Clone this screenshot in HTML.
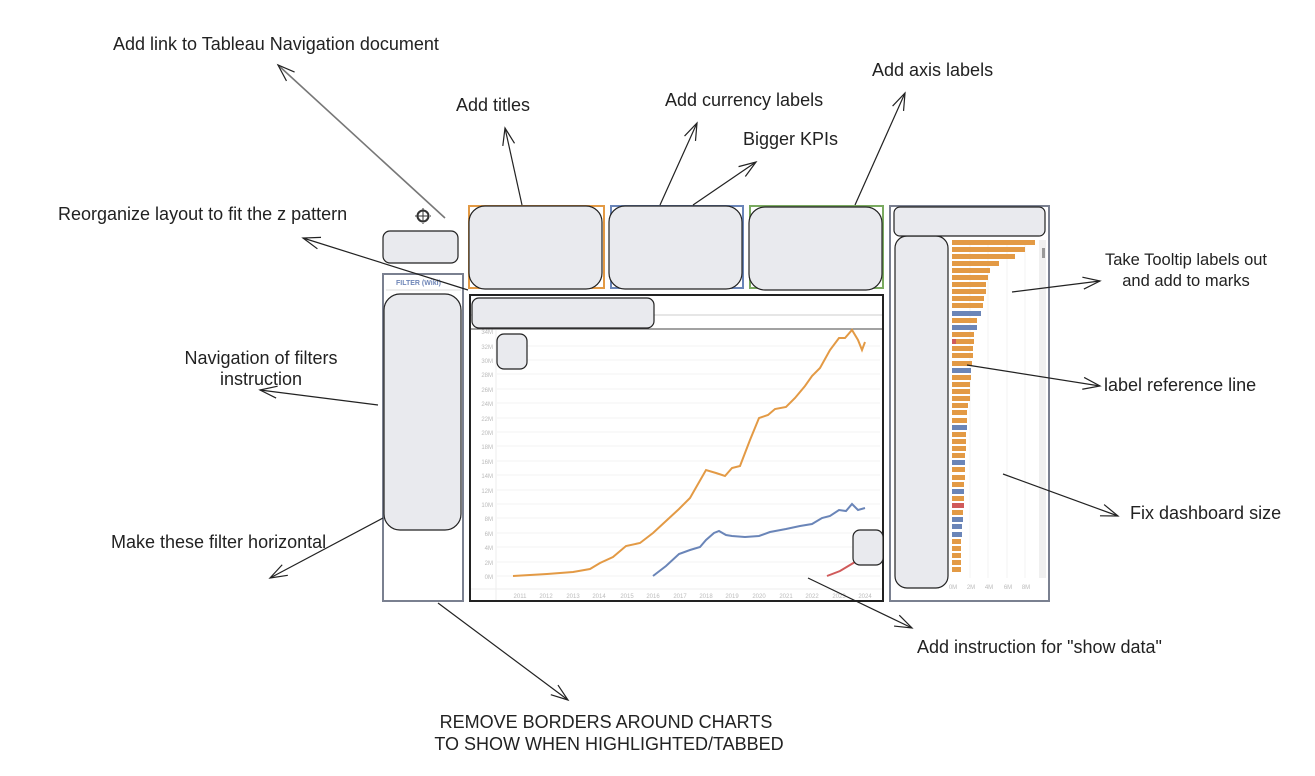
<!DOCTYPE html>
<html><head><meta charset="utf-8"><style>
html,body{margin:0;padding:0;background:#fff;}
svg{display:block;font-family:"Liberation Sans",Arial,sans-serif;}
.t{font-size:18px;fill:#222;}
.ax{font-size:6px;fill:#bbb;}
</style></head><body>
<svg width="1315" height="776" viewBox="0 0 1315 776" xmlns="http://www.w3.org/2000/svg">
<defs>
<marker id="a" markerWidth="20" markerHeight="14" refX="18" refY="7" orient="auto" markerUnits="userSpaceOnUse">
<path d="M1,1 L18,7 L1,13" fill="none" stroke="#222" stroke-width="1.2"/></marker>
</defs>

<rect x="383" y="274" width="80" height="327" fill="#fff" stroke="#7a8090" stroke-width="2"/>
<text x="396" y="285" font-size="7" fill="#6f86b8" font-weight="bold">FILTER (Wiki)</text>
<line x1="386" y1="290" x2="461" y2="290" stroke="#ddd"/>
<rect x="384" y="294" width="77" height="236" rx="16" fill="#e9eaee" stroke="#222" stroke-width="1.2"/>
<rect x="383" y="231" width="75" height="32" rx="7" fill="#e9eaee" stroke="#222" stroke-width="1.2"/>

<g transform="translate(423,216)" stroke="#333" fill="none">
<line x1="-8" y1="0" x2="8" y2="0" stroke-dasharray="1.5,1"/><line x1="0" y1="-8" x2="0" y2="8" stroke-dasharray="1.5,1"/>
<circle r="5.5" stroke-width="2"/><line x1="-5" y1="0" x2="5" y2="0"/><line x1="0" y1="-5" x2="0" y2="5"/>
</g>

<rect x="469" y="206" width="135" height="82" fill="none" stroke="#e39a45" stroke-width="2"/>
<rect x="469" y="206" width="133" height="83" rx="16" fill="#e9eaee" stroke="#222" stroke-width="1.2"/>
<rect x="611" y="206" width="132" height="82" fill="none" stroke="#6a85b8" stroke-width="2"/>
<rect x="609" y="206" width="133" height="83" rx="16" fill="#e9eaee" stroke="#222" stroke-width="1.2"/>
<rect x="750" y="206" width="133" height="82" fill="none" stroke="#7aaa60" stroke-width="2"/>
<rect x="749" y="207" width="133" height="83" rx="16" fill="#e9eaee" stroke="#222" stroke-width="1.2"/>

<rect x="470" y="295" width="413" height="306" fill="#fff" stroke="#222" stroke-width="2"/>
<line x1="471" y1="315" x2="882" y2="315" stroke="#e6e6e6" stroke-width="2"/>
<line x1="471" y1="329" x2="882" y2="329" stroke="#444" stroke-width="1"/>
<line x1="496" y1="330" x2="496" y2="600" stroke="#eee"/>
<line x1="471" y1="589" x2="882" y2="589" stroke="#eee"/>
<g stroke="#f3f3f3">
<line x1="497" y1="576" x2="880" y2="576"/><line x1="497" y1="562" x2="880" y2="562"/><line x1="497" y1="547" x2="880" y2="547"/><line x1="497" y1="533" x2="880" y2="533"/><line x1="497" y1="518" x2="880" y2="518"/><line x1="497" y1="504" x2="880" y2="504"/><line x1="497" y1="490" x2="880" y2="490"/><line x1="497" y1="475" x2="880" y2="475"/><line x1="497" y1="461" x2="880" y2="461"/><line x1="497" y1="446" x2="880" y2="446"/><line x1="497" y1="432" x2="880" y2="432"/><line x1="497" y1="418" x2="880" y2="418"/><line x1="497" y1="403" x2="880" y2="403"/><line x1="497" y1="389" x2="880" y2="389"/><line x1="497" y1="374" x2="880" y2="374"/><line x1="497" y1="360" x2="880" y2="360"/><line x1="497" y1="346" x2="880" y2="346"/>
</g>
<g class="ax" text-anchor="end">
<text x="493" y="579">0M</text><text x="493" y="565">2M</text><text x="493" y="550">4M</text><text x="493" y="536">6M</text><text x="493" y="521">8M</text><text x="493" y="507">10M</text><text x="493" y="493">12M</text><text x="493" y="478">14M</text><text x="493" y="464">16M</text><text x="493" y="449">18M</text><text x="493" y="435">20M</text><text x="493" y="421">22M</text><text x="493" y="406">24M</text><text x="493" y="392">26M</text><text x="493" y="377">28M</text><text x="493" y="363">30M</text><text x="493" y="349">32M</text><text x="493" y="334">34M</text>
</g>
<g class="ax" text-anchor="middle">
<text x="520" y="598">2011</text><text x="546" y="598">2012</text><text x="573" y="598">2013</text><text x="599" y="598">2014</text><text x="627" y="598">2015</text><text x="653" y="598">2016</text><text x="680" y="598">2017</text><text x="706" y="598">2018</text><text x="732" y="598">2019</text><text x="759" y="598">2020</text><text x="786" y="598">2021</text><text x="812" y="598">2022</text><text x="839" y="598">2023</text><text x="865" y="598">2024</text>
</g>
<polyline fill="none" stroke="#e39a45" stroke-width="2" points="513,576 547,574 573,572 590,569 600,563 613,557 626,546 640,543 653,533 666,521 679,509 690,498 706,470 716,473 725,476 732,468 740,466 750,440 759,418 768,415 775,409 786,407 795,398 805,386 812,376 820,368 830,350 839,338 845,338 852,330 858,340 862,350 865,342"/>
<polyline fill="none" stroke="#6a85b8" stroke-width="2" points="653,576 666,566 679,554 690,550 700,547 706,540 714,533 719,531 726,535 732,536 745,537 759,536 770,532 786,529 800,526 812,524 822,518 830,516 839,510 846,511 852,504 858,510 865,508"/>
<polyline fill="none" stroke="#d05a5a" stroke-width="2" points="827,576 840,571 855,562"/>
<rect x="472" y="298" width="182" height="30" rx="7" fill="#e9eaee" stroke="#222" stroke-width="1.2"/>
<rect x="497" y="334" width="30" height="35" rx="7" fill="#e9eaee" stroke="#222" stroke-width="1.2"/>
<rect x="853" y="530" width="30" height="35" rx="7" fill="#e9eaee" stroke="#222" stroke-width="1.2"/>

<rect x="890" y="206" width="159" height="395" fill="#fff" stroke="#7a8090" stroke-width="2"/>
<rect x="1039" y="240" width="7" height="338" fill="#f0f0f0"/>
<rect x="1042" y="248" width="3" height="10" fill="#999"/>
<g stroke="#f3f3f3"><line x1="970" y1="240" x2="970" y2="578"/><line x1="988" y1="240" x2="988" y2="578"/><line x1="1007" y1="240" x2="1007" y2="578"/><line x1="1025" y1="240" x2="1025" y2="578"/></g>
<g>
<rect x="952" y="240" width="83" height="5" fill="#e39a45"/>
<rect x="952" y="247" width="73" height="5" fill="#e39a45"/>
<rect x="952" y="254" width="63" height="5" fill="#e39a45"/>
<rect x="952" y="261" width="47" height="5" fill="#e39a45"/>
<rect x="952" y="268" width="38" height="5" fill="#e39a45"/>
<rect x="952" y="275" width="36" height="5" fill="#e39a45"/>
<rect x="952" y="282" width="34" height="5" fill="#e39a45"/>
<rect x="952" y="289" width="34" height="5" fill="#e39a45"/>
<rect x="952" y="296" width="32" height="5" fill="#e39a45"/>
<rect x="952" y="303" width="31" height="5" fill="#e39a45"/>
<rect x="952" y="311" width="29" height="5" fill="#6a85b8"/>
<rect x="952" y="318" width="25" height="5" fill="#e39a45"/>
<rect x="952" y="325" width="25" height="5" fill="#6a85b8"/>
<rect x="952" y="332" width="22" height="5" fill="#e39a45"/>
<rect x="952" y="339" width="22" height="5" fill="#e39a45"/><rect x="952" y="339" width="4" height="5" fill="#d05a5a"/>
<rect x="952" y="346" width="21" height="5" fill="#e39a45"/>
<rect x="952" y="353" width="21" height="5" fill="#e39a45"/>
<rect x="952" y="361" width="20" height="5" fill="#e39a45"/>
<rect x="952" y="368" width="19" height="5" fill="#6a85b8"/>
<rect x="952" y="375" width="19" height="5" fill="#e39a45"/>
<rect x="952" y="382" width="18" height="5" fill="#e39a45"/>
<rect x="952" y="389" width="18" height="5" fill="#e39a45"/>
<rect x="952" y="396" width="18" height="5" fill="#e39a45"/>
<rect x="952" y="403" width="16" height="5" fill="#e39a45"/>
<rect x="952" y="410" width="15" height="5" fill="#e39a45"/>
<rect x="952" y="418" width="15" height="5" fill="#e39a45"/>
<rect x="952" y="425" width="15" height="5" fill="#6a85b8"/>
<rect x="952" y="432" width="14" height="5" fill="#e39a45"/>
<rect x="952" y="439" width="14" height="5" fill="#e39a45"/>
<rect x="952" y="446" width="14" height="5" fill="#e39a45"/>
<rect x="952" y="453" width="13" height="5" fill="#e39a45"/>
<rect x="952" y="460" width="13" height="5" fill="#6a85b8"/>
<rect x="952" y="467" width="13" height="5" fill="#e39a45"/>
<rect x="952" y="475" width="13" height="5" fill="#e39a45"/>
<rect x="952" y="482" width="12" height="5" fill="#e39a45"/>
<rect x="952" y="489" width="12" height="5" fill="#6a85b8"/>
<rect x="952" y="496" width="12" height="5" fill="#e39a45"/>
<rect x="952" y="503" width="12" height="5" fill="#d05a5a"/>
<rect x="952" y="510" width="11" height="5" fill="#e39a45"/>
<rect x="952" y="517" width="11" height="5" fill="#6a85b8"/>
<rect x="952" y="524" width="10" height="5" fill="#6a85b8"/>
<rect x="952" y="532" width="10" height="5" fill="#6a85b8"/>
<rect x="952" y="539" width="9" height="5" fill="#e39a45"/>
<rect x="952" y="546" width="9" height="5" fill="#e39a45"/>
<rect x="952" y="553" width="9" height="5" fill="#e39a45"/>
<rect x="952" y="560" width="9" height="5" fill="#e39a45"/>
<rect x="952" y="567" width="9" height="5" fill="#e39a45"/>
</g>
<g class="ax" text-anchor="middle"><text x="953" y="589">0M</text><text x="971" y="589">2M</text><text x="989" y="589">4M</text><text x="1008" y="589">6M</text><text x="1026" y="589">8M</text></g>
<rect x="895" y="236" width="53" height="352" rx="12" fill="#e9eaee" stroke="#222" stroke-width="1.2"/>
<rect x="894" y="207" width="151" height="29" rx="6" fill="#e9eaee" stroke="#222" stroke-width="1.2"/>

<g stroke="#222" stroke-width="1.2" fill="none" marker-end="url(#a)">
<line x1="445" y1="218" x2="278" y2="65" stroke="#777" stroke-width="1.6"/>
<line x1="522" y1="205" x2="505" y2="128"/>
<line x1="660" y1="205" x2="697" y2="123"/>
<line x1="693" y1="205" x2="756" y2="162"/>
<line x1="855" y1="205" x2="905" y2="93"/>
<line x1="468" y1="290" x2="303" y2="238"/>
<line x1="378" y1="405" x2="260" y2="390"/>
<line x1="383" y1="518" x2="270" y2="578"/>
<line x1="438" y1="603" x2="568" y2="700"/>
<line x1="1012" y1="292" x2="1100" y2="281"/>
<line x1="967" y1="365" x2="1100" y2="386"/>
<line x1="1003" y1="474" x2="1118" y2="516"/>
<line x1="808" y1="578" x2="912" y2="628"/>
</g>

<g class="t">
<text x="113" y="50">Add link to Tableau Navigation document</text>
<text x="456" y="111">Add titles</text>
<text x="665" y="106">Add currency labels</text>
<text x="743" y="145">Bigger KPIs</text>
<text x="872" y="76">Add axis labels</text>
<text x="58" y="220">Reorganize layout to fit the z pattern</text>
<text x="261" y="364" text-anchor="middle">Navigation of filters</text>
<text x="261" y="385" text-anchor="middle">instruction</text>
<text x="111" y="548">Make these filter horizontal</text>
<text x="1186" y="265" text-anchor="middle" font-size="16.5">Take Tooltip labels out</text>
<text x="1186" y="286" text-anchor="middle" font-size="16.5">and add to marks</text>
<text x="1104" y="391">label reference line</text>
<text x="1130" y="519">Fix dashboard size</text>
<text x="917" y="653">Add instruction for "show data"</text>
<text x="606" y="728" text-anchor="middle">REMOVE BORDERS AROUND CHARTS</text>
<text x="609" y="750" text-anchor="middle">TO SHOW WHEN HIGHLIGHTED/TABBED</text>
</g>
</svg>
</body></html>
